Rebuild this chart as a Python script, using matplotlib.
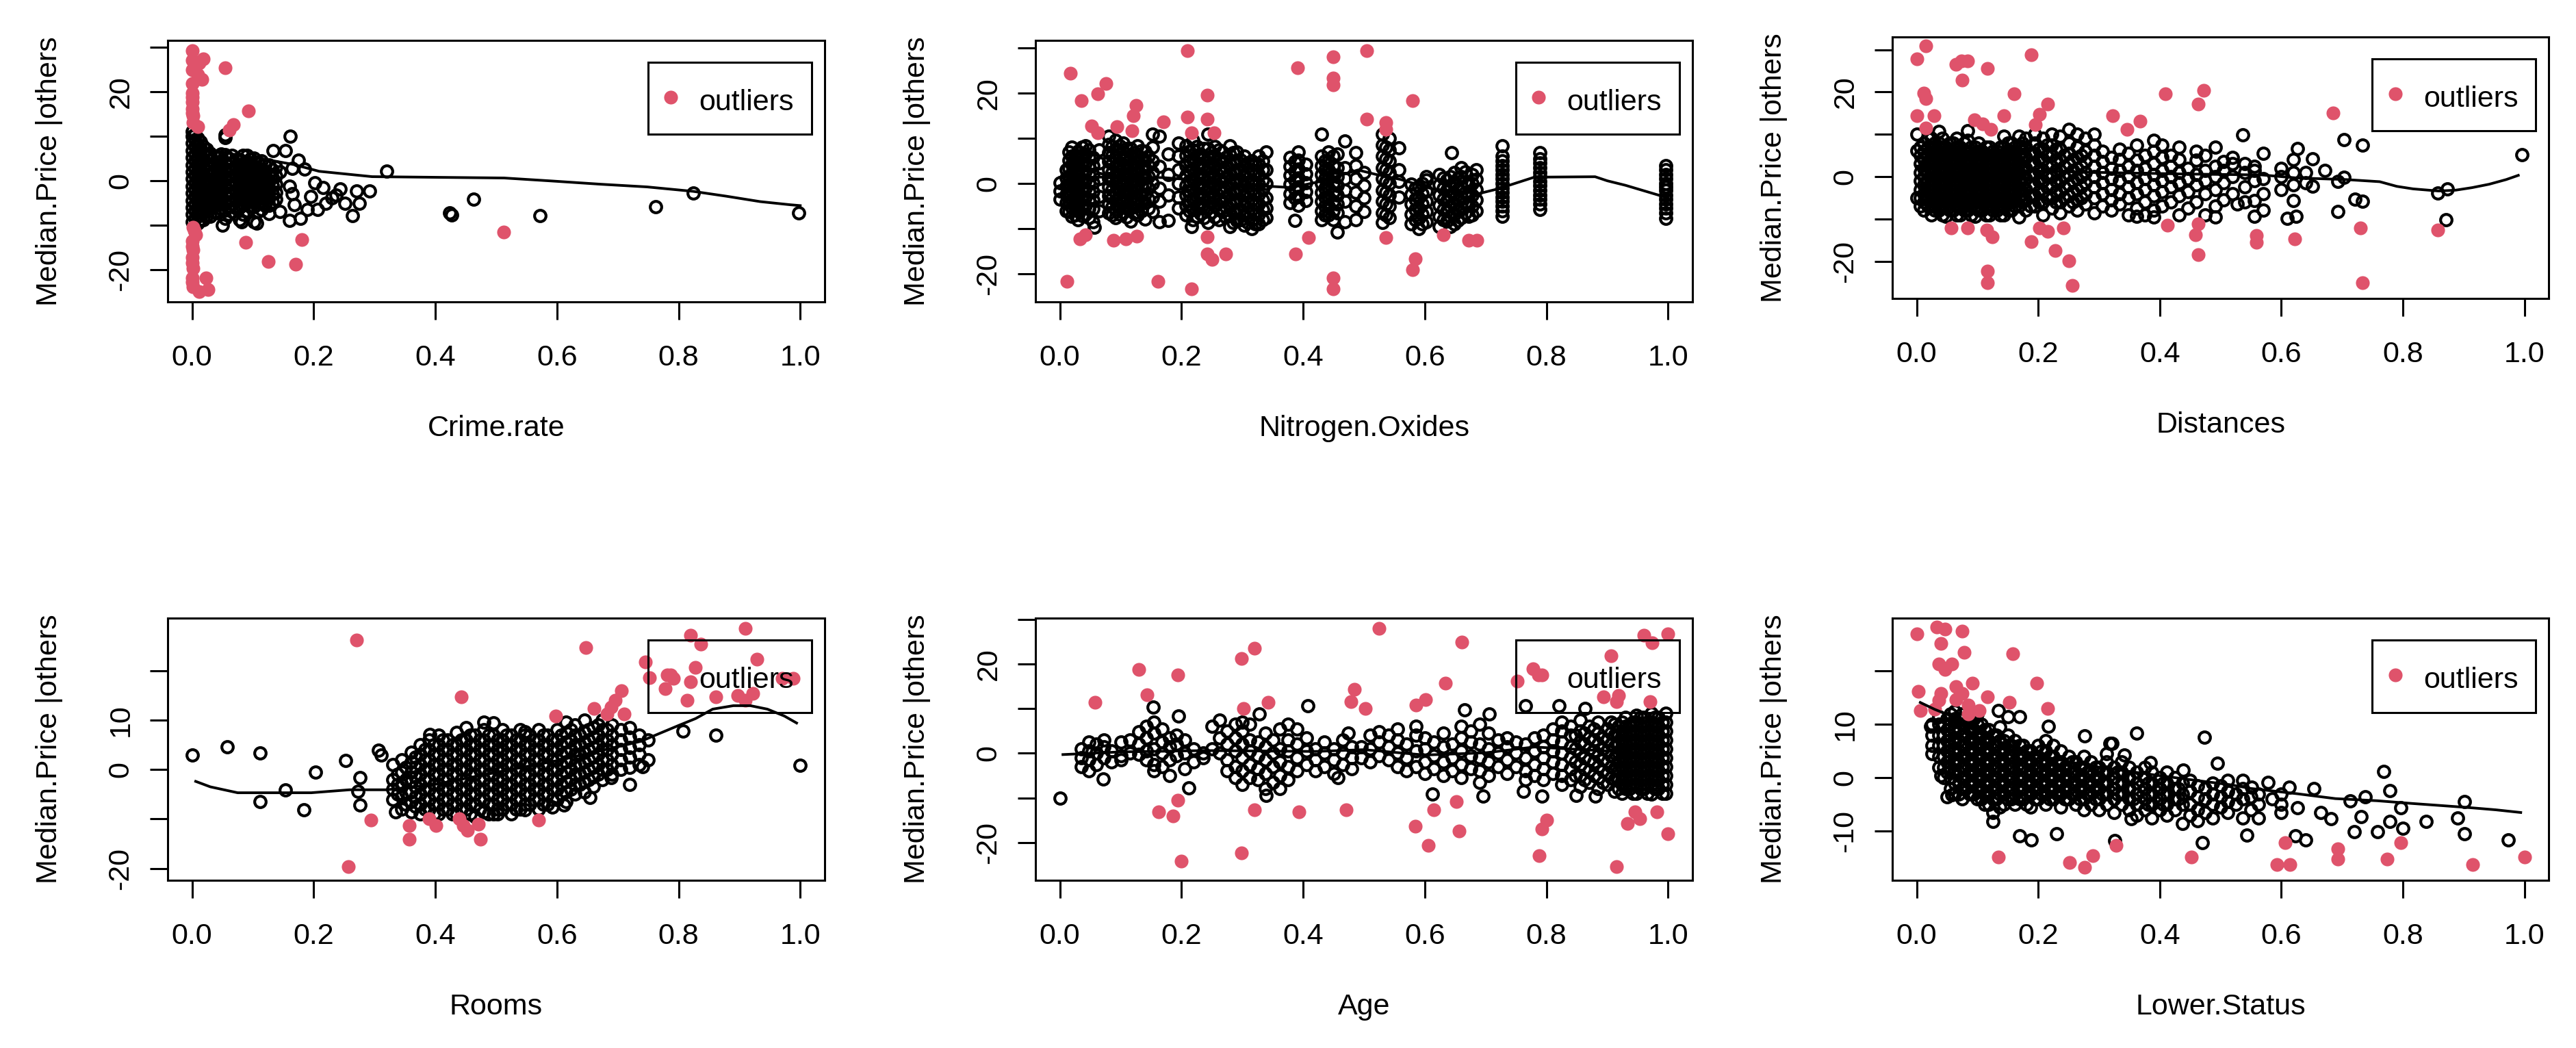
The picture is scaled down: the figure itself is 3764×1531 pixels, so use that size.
import matplotlib.pyplot as plt
from matplotlib.patches import Rectangle

plt.rcParams['font.family'] = ['Liberation Sans', 'DejaVu Sans']

RED = '#DF536B'

xticks = [0.0, 0.2, 0.4, 0.6, 0.8, 1.0]
xtick_labels = ['0.0', '0.2', '0.4', '0.6', '0.8', '1.0']
ylab = 'Median.Price |others'

# ---------------- Crime.rate ----------------
crime_black = [
    (0.001, [-9.2, -7.6, -6.0, -4.4, -2.8, -1.2, 0.4, 2.0, 3.6, 5.2, 6.8, 8.4, 10.0, 11.0]),
    (0.005, [-8.4, -6.8, -5.2, -3.6, -2.0, -0.4, 1.2, 2.8, 4.4, 6.0, 7.6, 9.2, 10.5]),
    (0.010, [-9.5, -8.0, -6.4, -4.8, -3.2, -1.6, 0.0, 1.6, 3.2, 4.8, 6.4, 8.0, 9.5]),
    (0.014, [-8.8, -7.2, -5.6, -4.0, -2.4, -0.8, 0.8, 2.4, 4.0, 5.6, 7.2, 8.8]),
    (0.019, [-8.8, -7.0, -5.4, -3.6, -2.0, -0.4, 1.2, 2.8, 4.4, 6.0, 7.6]),
    (0.024, [-7.9, -6.2, -4.5, -2.8, -1.1, 0.6, 2.3, 4.0, 5.7, 7.0]),
    (0.030, [-8.0, -6.2, -4.4, -2.6, -0.8, 1.0, 2.8, 4.6, 6.2]),
    (0.036, [-7.1, -5.3, -3.5, -1.7, 0.1, 1.9, 3.7, 5.5]),
    (0.042, [-7.2, -5.4, -3.6, -1.8, 0.0, 1.8, 3.6, 5.4]),
    (0.048, [-6.3, -4.5, -2.7, -0.9, 0.9, 2.7, 4.5, 6.0]),
    (0.054, [-8.4, -6.6, -4.8, -3.0, -1.2, 0.6, 2.4, 4.2, 5.8, 9.6, 10.3]),
    (0.060, [-7.5, -5.7, -3.9, -2.1, -0.3, 1.5, 3.3, 5.1]),
    (0.066, [-7.0, -5.2, -3.4, -1.6, 0.2, 2.0, 3.8, 5.6]),
    (0.072, [-6.1, -4.3, -2.5, -0.7, 1.1, 2.9, 4.7]),
    (0.078, [-8.8, -6.0, -4.2, -2.4, -0.6, 1.2, 3.0, 4.8]),
    (0.084, [-7.6, -5.1, -3.3, -1.5, 0.3, 2.1, 3.9, 5.6]),
    (0.090, [-6.8, -5.0, -3.2, -1.4, 0.4, 2.2, 4.0, 5.6]),
    (0.096, [-5.9, -4.1, -2.3, -0.5, 1.3, 3.1, 4.9]),
    (0.102, [-9.3, -5.8, -4.0, -2.2, -0.4, 1.4, 3.2, 5.0]),
    (0.108, [-7.0, -4.9, -3.1, -1.3, 0.5, 2.3, 4.1]),
    (0.114, [-6.4, -4.6, -2.8, -1.0, 0.8, 2.6, 4.4]),
    (0.120, [-5.5, -3.7, -1.9, -0.1, 1.7, 3.5]),
    (0.126, [-7.4, -5.6, -3.8, -2.0, -0.2, 1.6, 3.6]),
    (0.132, [-4.7, -2.9, -1.1, 0.7, 2.5]),
    (0.138, [-4.2, -2.6, -0.8, 1.0, 3.0]),
    (0.050, [-10.0]), (0.081, [-9.2]), (0.106, [-9.5]),
    (0.133, [6.7]), (0.153, [6.7]), (0.161, [10.0]), (0.175, [4.6]),
    (0.165, [2.8, -3.0]), (0.144, [2.0, -7.0]), (0.185, [2.6]), (0.160, [-1.2, -9.0]),
    (0.178, [-8.5]), (0.168, [-5.4]), (0.189, [-6.4]), (0.195, [-3.5]),
    (0.202, [-0.5]), (0.206, [-6.4]), (0.215, [-1.5]), (0.220, [-5.1]),
    (0.230, [-3.8]), (0.237, [-3.3]), (0.244, [-1.8]), (0.251, [-5.1]),
    (0.264, [-7.9]), (0.271, [-2.3]), (0.275, [-5.1]), (0.292, [-2.3]),
    (0.320, [2.1]), (0.423, [-7.2]), (0.427, [-7.7]), (0.463, [-4.1]),
    (0.572, [-7.9]), (0.762, [-5.9]), (0.824, [-2.8]), (0.997, [-7.3]),
]
crime_out = [
    (0.0, 29.2), (0.019, 27.4), (0.012, 26.4), (0.0, 27.0), (0.0, 24.9), (0.009, 23.8),
    (0.016, 22.8), (0.0, 21.8), (0.0, 19.7), (0.001, 18.8), (0.0, 17.7), (0.0, 16.2),
    (0.001, 15.2), (0.002, 14.6), (0.002, 13.1), (0.009, 12.1), (0.054, 25.4),
    (0.093, 15.6), (0.068, 12.6), (0.061, 11.3), (0.002, -10.5), (0.004, -11.3),
    (0.006, -12.1), (0.0, -13.6), (0.0, -14.8), (0.002, -15.6), (0.0, -17.2),
    (0.0, -18.5), (0.002, -19.7), (0.0, -21.8), (0.023, -21.8), (0.0, -22.8),
    (0.002, -23.8), (0.026, -24.4), (0.012, -24.9), (0.088, -13.8), (0.180, -13.3),
    (0.125, -18.2), (0.170, -18.7), (0.513, -11.5),
]
crime_fit_x = [0.0, 0.03, 0.068, 0.12, 0.168, 0.209, 0.296, 0.513, 0.589, 0.672,
               0.748, 0.824, 0.879, 0.934, 0.983, 1.0]
crime_fit_y = [8.5, 7.0, 5.9, 4.8, 3.6, 2.1, 0.9, 0.6, -0.05, -0.8,
               -1.4, -2.4, -3.5, -4.7, -5.4, -5.6]

# ---------------- Nitrogen.Oxides ----------------
nox_black = [
    (0.000, [-3.5, -1.7, 0.2]),
    (0.010, [-6.0, -4.2, -2.4, -0.6, 1.2, 3.0]),
    (0.015, [-6.2, -4.3, -2.4, -0.5, 1.4, 3.3, 5.2, 7.0]),
    (0.020, [-7.2, -5.3, -3.4, -1.5, 0.4, 2.3, 4.2, 6.1, 8.0]),
    (0.025, [-7.0, -5.1, -3.2, -1.3, 0.6, 2.5, 4.4, 6.3]),
    (0.030, [-8.0, -6.1, -4.2, -2.3, -0.4, 1.5, 3.4, 5.3, 7.2]),
    (0.036, [-7.1, -5.2, -3.3, -1.4, 0.5, 2.4, 4.3, 6.2, 8.0]),
    (0.042, [-6.8, -4.9, -3.0, -1.1, 0.8, 2.7, 4.6, 6.5, 8.4]),
    (0.048, [-7.5, -5.6, -3.7, -1.8, 0.1, 2.0, 3.9, 5.8, 7.5]),
    (0.054, [-8.5, -5.6, -3.7, -1.8, 0.1, 2.0, 3.9, 5.8]),
    (0.057, [-9.7]),
    (0.064, [-6.0, -2.8, 1.0, 4.5, 7.5]),
    (0.080, [-6.5, -4.6, -2.7, -0.8, 1.1, 3.0, 4.9, 6.8, 8.7, 10.5]),
    (0.086, [-7.0, -5.1, -3.2, -1.3, 0.6, 2.5, 4.4, 6.3, 8.2]),
    (0.092, [-7.6, -5.7, -3.8, -1.9, 0.0, 1.9, 3.8, 5.7, 7.6, 9.5]),
    (0.098, [-6.8, -4.9, -3.0, -1.1, 0.8, 2.7, 4.6, 6.5, 8.4]),
    (0.104, [-6.3, -4.4, -2.5, -0.6, 1.3, 3.2, 5.1, 7.0, 8.9]),
    (0.110, [-7.4, -5.5, -3.6, -1.7, 0.2, 2.1, 4.0, 5.9, 7.8]),
    (0.116, [-8.4, -5.5, -3.6, -1.7, 0.2, 2.1, 4.0, 5.9, 7.8]),
    (0.122, [-6.5, -4.6, -2.7, -0.8, 1.1, 3.0, 4.9, 6.8]),
    (0.128, [-7.0, -5.0, -3.1, -1.2, 0.7, 2.6, 4.5, 6.4, 8.3]),
    (0.134, [-6.0, -4.1, -2.2, -0.3, 1.6, 3.5, 5.4, 7.3]),
    (0.140, [-7.8, -4.3, -2.4, -0.5, 1.4, 3.3, 5.2, 7.1]),
    (0.146, [-5.5, -3.4, -1.0, 1.5, 4.0, 6.0]),
    (0.152, [-6.2, -3.0, 0.0, 2.5, 5.0, 8.0, 11.0]),
    (0.164, [-8.5, -4.0, -1.0, 3.8, 10.5]),
    (0.178, [-8.2, -2.5, 2.0, 6.5]),
    (0.195, [-5.5, -3.0, 0.0, 3.0, 6.0, 9.0]),
    (0.207, [-7.0, -4.8, -2.6, -0.4, 1.8, 4.0, 6.2, 8.4]),
    (0.213, [-6.0, -3.8, -1.6, 0.6, 2.8, 5.0, 7.2]),
    (0.216, [-9.5]),
    (0.219, [-8.0, -5.8, -3.6, -1.4, 0.8, 3.0, 5.2, 7.4, 9.6]),
    (0.225, [-7.2, -5.0, -2.8, -0.6, 1.6, 3.8, 6.0, 8.2]),
    (0.231, [-6.6, -4.4, -2.2, 0.0, 2.2, 4.4, 6.6]),
    (0.237, [-7.6, -5.4, -3.2, -1.0, 1.2, 3.4, 5.6, 7.8]),
    (0.243, [-8.6, -5.4, -3.2, -1.0, 1.2, 3.4, 5.6, 7.8, 11.0]),
    (0.249, [-6.4, -4.2, -2.0, 0.2, 2.4, 4.6, 6.8]),
    (0.255, [-7.4, -5.0, -2.8, -0.6, 1.6, 3.8, 6.0, 8.2]),
    (0.261, [-8.0, -5.8, -3.6, -1.4, 0.8, 3.0, 5.2, 7.4]),
    (0.267, [-6.2, -4.0, -1.8, 0.4, 2.6, 4.8, 7.0]),
    (0.273, [-7.4, -5.2, -3.0, -0.8, 1.4, 3.6, 5.8]),
    (0.279, [-9.6, -7.0, -4.6, -2.4, -0.2, 2.0, 4.2, 6.4, 8.4]),
    (0.285, [-8.6, -6.4, -4.2, -2.0, 0.2, 2.4, 4.6, 6.8]),
    (0.291, [-8.2, -5.8, -3.6, -1.4, 0.8, 3.0, 5.2, 7.0]),
    (0.297, [-8.0, -5.8, -3.6, -1.4, 0.8, 3.0, 5.2]),
    (0.303, [-9.2, -7.0, -4.8, -2.6, -0.4, 1.8, 4.0, 6.0]),
    (0.309, [-8.6, -6.4, -4.2, -2.0, 0.2, 2.4, 4.6]),
    (0.315, [-10.0, -8.0, -5.8, -3.6, -1.4, 0.8, 3.0, 5.0]),
    (0.321, [-9.0, -6.8, -4.6, -2.4, -0.2, 2.0, 4.2]),
    (0.327, [-9.0, -6.8, -4.6, -2.4, -0.2, 2.0, 4.2, 6.0]),
    (0.333, [-8.0, -5.8, -3.6, -1.4, 0.8, 3.0, 5.0]),
    (0.339, [-7.6, -5.4, -3.2, 0.0, 3.0, 7.0]),
    (0.378, [-4.2, -2.2, -0.2, 1.8, 3.8, 5.8]),
    (0.386, [-8.2, -3.2, -1.2, 0.8, 2.8, 4.8]),
    (0.392, [-4.8, -2.8, -0.8, 1.2, 3.2, 5.2, 7.0]),
    (0.404, [-3.8, -1.8, 0.2, 2.2, 4.2]),
    (0.430, [-8.0, -6.0, -4.0, -2.0, 0.0, 2.0, 4.0, 6.0, 11.0]),
    (0.436, [-7.0, -5.0, -3.0, -1.0, 1.0, 3.0, 5.0]),
    (0.442, [-7.0, -5.0, -3.0, -1.0, 1.0, 3.0, 5.0, 7.0]),
    (0.449, [-8.0, -6.0, -4.0, -2.0, 0.0, 2.0, 4.0, 6.0]),
    (0.456, [-10.8, -6.5, -4.5, -2.5, -0.5, 1.5, 3.5, 6.5]),
    (0.468, [-8.5, -4.0, -1.5, 1.0, 3.5, 9.4]),
    (0.486, [-8.0, -5.0, -2.0, 1.0, 4.0, 6.8]),
    (0.500, [-6.2, -3.2, -0.5, 2.5]),
    (0.530, [-8.7, -6.5, -4.0, -1.5, 1.0, 3.5, 6.0, 8.5, 11.0]),
    (0.536, [-7.0, -4.5, -2.0, 0.5, 3.0, 5.5, 8.0]),
    (0.542, [-7.5, -5.0, -2.5, 0.0, 2.5, 5.0, 7.5, 10.0]),
    (0.557, [-3.0, 0.5, 3.0, 7.9]),
    (0.578, [-9.0, -6.8, -4.6, -2.4, -0.2]),
    (0.584, [-8.0, -5.7, -3.4, -1.1]),
    (0.590, [-10.0, -7.7, -5.4, -3.1, -0.8]),
    (0.596, [-9.0, -6.8, -4.5, -2.2, 0.0]),
    (0.602, [-8.5, -6.2, -3.9, -1.6, 0.7, 1.5]),
    (0.624, [-9.5, -7.2, -4.9, -2.6, -0.3, 2.0]),
    (0.630, [-8.0, -5.7, -3.4, -1.1, 1.2]),
    (0.636, [-8.4, -6.1, -3.8, -1.5, 0.8]),
    (0.642, [-9.5, -7.3, -5.0, -2.7, -0.4, 1.6]),
    (0.644, [6.9]),
    (0.648, [-9.0, -6.8, -4.5, -2.2, 0.1, 2.4]),
    (0.654, [-8.2, -5.9, -3.6, -1.3, 1.0]),
    (0.660, [-7.6, -5.3, -3.0, -0.7, 1.6, 3.5]),
    (0.666, [-6.5, -4.2, -1.9, 0.4, 2.6]),
    (0.672, [-7.2, -4.9, -2.6, -0.3]),
    (0.678, [-7.0, -5.0, -2.5, 0.0, 2.0]),
    (0.684, [-6.0, -3.7, -1.4, 0.9, 3.0]),
    (0.727, [-7.2, -6.0, -5.0, -4.0, -3.0, -2.0, -1.0, 0.0, 1.0, 2.0, 3.0, 4.0, 5.0, 6.0, 8.4]),
    (0.789, [-5.7, -4.5, -3.5, -2.5, -1.5, -0.5, 0.5, 1.5, 2.5, 3.5, 4.5, 5.5, 6.9]),
    (0.996, [-7.7, -6.5, -5.5, -4.5, -3.5, -2.5, -1.5, -0.8, 0.0, 1.0, 2.0, 3.0, 4.0]),
]
nox_out = [
    (0.210, 29.4), (0.449, 28.1), (0.504, 29.4), (0.391, 25.7), (0.449, 23.3),
    (0.449, 21.8), (0.017, 24.4), (0.076, 22.2), (0.062, 19.8), (0.035, 18.4),
    (0.242, 19.6), (0.580, 18.4), (0.125, 17.3), (0.121, 15.0), (0.210, 14.7),
    (0.242, 14.2), (0.170, 13.6), (0.504, 14.2), (0.536, 13.5), (0.052, 12.7),
    (0.062, 11.2), (0.094, 12.6), (0.118, 11.7), (0.216, 11.2), (0.254, 11.2),
    (0.536, 12.0), (0.033, -12.3), (0.042, -11.3), (0.088, -12.5), (0.108, -12.3),
    (0.126, -11.7), (0.242, -11.8), (0.409, -11.9), (0.536, -11.9), (0.630, -11.4),
    (0.672, -12.5), (0.686, -12.5), (0.242, -15.6), (0.250, -16.8), (0.273, -15.6),
    (0.387, -15.6), (0.584, -16.6), (0.580, -19.1), (0.012, -21.6), (0.161, -21.6),
    (0.216, -23.4), (0.449, -20.9), (0.449, -23.4),
]
nox_fit_x = [0.0, 0.1, 0.17, 0.25, 0.33, 0.38, 0.43, 0.49, 0.52, 0.56, 0.62, 0.69,
             0.72, 0.75, 0.78, 0.88, 0.90, 0.93, 0.955, 0.98, 1.0]
nox_fit_y = [1.4, 1.4, 1.3, 0.5, -0.5, -0.9, 0.5, 3.0, 2.0, 0.9, -1.5, -2.2,
             -1.2, 0.1, 1.4, 1.5, 0.6, -0.4, -1.4, -2.4, -3.2]

# ---------------- Distances ----------------
dist_black = [
    (0.000, [-5.0, 6.1, 10.1]),
    (0.006, [-7.0, -5.0, -3.0, -1.0, 1.0, 3.0, 5.0, 7.0]),
    (0.012, [-8.0, -6.0, -4.0, -2.0, 0.0, 2.0, 4.0, 6.0, 8.0]),
    (0.018, [-7.0, -5.0, -3.0, -1.0, 1.0, 3.0, 5.0, 7.0, 9.0]),
    (0.024, [-9.0, -7.0, -5.0, -3.0, -1.0, 1.0, 3.0, 5.0, 7.0, 9.0]),
    (0.030, [-8.0, -6.0, -4.0, -2.0, 0.0, 2.0, 4.0, 6.0, 8.0]),
    (0.036, [-8.0, -6.0, -4.0, -2.0, 0.0, 2.0, 4.0, 6.0, 8.0, 10.6]),
    (0.042, [-9.0, -7.0, -5.0, -3.0, -1.0, 1.0, 3.0, 5.0, 7.0, 9.0]),
    (0.048, [-9.4, -7.0, -5.0, -3.0, -1.0, 1.0, 3.0, 5.0, 7.0]),
    (0.054, [-8.0, -6.0, -4.0, -2.0, 0.0, 2.0, 4.0, 6.0, 8.0]),
    (0.060, [-8.0, -6.0, -4.0, -2.0, 0.0, 2.0, 4.0, 6.0, 8.0]),
    (0.066, [-9.0, -7.0, -5.0, -3.0, -1.0, 1.0, 3.0, 5.0, 7.0, 9.0]),
    (0.072, [-9.0, -7.0, -5.0, -3.0, -1.0, 1.0, 3.0, 5.0, 7.0]),
    (0.078, [-8.0, -6.0, -4.0, -2.0, 0.0, 2.0, 4.0, 6.0, 8.0]),
    (0.084, [-8.0, -6.0, -4.0, -2.0, 0.0, 2.0, 4.0, 6.0, 8.5, 10.9]),
    (0.090, [-9.0, -7.0, -5.0, -3.0, -1.0, 1.0, 3.0, 5.0, 7.0]),
    (0.096, [-9.4, -7.0, -5.0, -3.0, -1.0, 1.0, 3.0, 5.0, 7.0]),
    (0.102, [-8.0, -6.0, -4.0, -2.0, 0.0, 2.0, 4.0, 6.0, 8.0]),
    (0.108, [-8.0, -6.0, -4.0, -2.0, 0.0, 2.0, 4.0, 6.0]),
    (0.114, [-9.0, -7.0, -5.0, -3.0, -1.0, 1.0, 3.0, 5.0, 7.0]),
    (0.120, [-9.0, -7.0, -5.0, -3.0, -1.0, 1.0, 3.0, 5.0, 7.0]),
    (0.126, [-8.0, -6.0, -4.0, -2.0, 0.0, 2.0, 4.0, 6.0]),
    (0.132, [-8.0, -6.0, -4.0, -2.0, 0.0, 2.0, 4.0, 6.0]),
    (0.138, [-9.0, -7.0, -5.0, -3.0, -1.0, 1.0, 3.0, 5.0, 7.0]),
    (0.144, [-9.0, -7.0, -5.0, -3.0, -1.0, 1.0, 3.0, 5.0, 7.0, 9.5]),
    (0.150, [-8.0, -6.0, -4.0, -2.0, 0.0, 2.0, 4.0, 6.0, 8.0]),
    (0.156, [-8.0, -6.0, -4.0, -2.0, 0.0, 2.0, 4.0, 6.0, 8.0]),
    (0.162, [-7.0, -5.0, -3.0, -1.0, 1.0, 3.0, 5.0, 7.0]),
    (0.168, [-9.5, -7.0, -5.0, -3.0, -1.0, 1.0, 3.0, 5.0, 7.0, 9.5]),
    (0.174, [-6.0, -4.0, -2.0, 0.0, 2.0, 4.0, 6.0, 8.0]),
    (0.180, [-8.0, -5.5, -3.0, -0.5, 2.0, 4.5, 7.0, 9.0]),
    (0.187, [-7.0, -4.5, -2.0, 0.5, 3.0, 5.5]),
    (0.194, [-7.0, -4.5, -2.0, 0.5, 3.0, 5.5, 8.0, 10.0]),
    (0.201, [-6.0, -3.5, -1.0, 1.5, 4.0, 6.5]),
    (0.208, [-9.0, -6.0, -3.5, -1.0, 1.5, 4.0, 6.5, 9.0]),
    (0.215, [-5.0, -2.5, 0.0, 2.5, 5.0, 7.5]),
    (0.222, [-7.5, -5.0, -2.5, 0.0, 2.5, 5.0, 7.5, 10.0]),
    (0.229, [-6.0, -3.5, -1.0, 1.5, 4.0, 6.5]),
    (0.236, [-8.5, -6.0, -3.5, -1.0, 1.5, 4.0, 6.5, 9.5]),
    (0.243, [-5.0, -2.5, 0.0, 2.5, 5.0]),
    (0.250, [-7.0, -4.5, -2.0, 0.5, 3.0, 5.5, 8.0, 11.2]),
    (0.257, [-6.0, -3.5, -1.0, 1.5, 4.0]),
    (0.264, [-8.0, -5.5, -3.0, -0.5, 2.0, 4.5, 7.0, 10.0]),
    (0.271, [-5.0, -2.5, 0.0, 2.5, 5.0]),
    (0.278, [-6.5, -4.0, -1.5, 1.0, 3.5, 6.0, 9.0]),
    (0.292, [-8.5, -5.0, -2.5, 0.0, 2.5, 5.0, 7.5, 10.1]),
    (0.306, [-7.0, -4.0, -1.5, 1.0, 3.5, 6.0]),
    (0.320, [-8.0, -5.5, -3.0, -0.5, 2.0, 4.5]),
    (0.334, [-6.5, -4.0, -1.0, 1.5, 4.0, 6.5]),
    (0.348, [-9.0, -5.0, -2.5, 0.0, 2.5, 5.5]),
    (0.362, [-9.4, -7.5, -4.0, -1.5, 1.5, 3.9, 7.5]),
    (0.376, [-9.1, -6.0, -3.0, -0.5, 2.0, 5.0]),
    (0.390, [-9.5, -8.0, -4.5, -2.0, 0.5, 3.0, 6.0, 8.5]),
    (0.404, [-7.0, -3.5, -1.0, 1.5, 4.5, 7.5]),
    (0.418, [-6.0, -2.5, 0.0, 2.5, 5.0]),
    (0.432, [-9.0, -4.5, -1.5, 1.0, 4.0, 6.9]),
    (0.446, [-7.5, -3.5, -0.5, 2.0]),
    (0.460, [-6.0, -2.0, 0.5, 3.9, 6.0]),
    (0.475, [-9.0, -4.0, -1.0, 1.5, 5.0]),
    (0.492, [-9.6, -7.0, -3.0, 0.0, 2.5, 6.9]),
    (0.505, [-5.5, -1.5, 1.5, 3.5]),
    (0.520, [-4.0, 0.0, 3.0, 4.5]),
    (0.527, [-6.4]),
    (0.537, [9.8]),
    (0.540, [-6.0, -2.5, 1.0, 3.0]),
    (0.556, [-9.4, -5.6, -1.0, 1.5, 2.5]),
    (0.570, [-8.0, -4.0, -0.5, 5.5]),
    (0.600, [-3.0, 0.0, 2.0]),
    (0.610, [-9.9]),
    (0.620, [-5.6, -2.0, 1.0, 4.0]),
    (0.624, [-9.4]), (0.627, [6.6]), (0.640, [1.0, -1.5]),
    (0.651, [4.2, -2.3]), (0.672, [1.5]), (0.693, [-1.2, -8.3]),
    (0.703, [8.8, -0.2]), (0.721, [-5.3]), (0.734, [7.4, -5.8]),
    (0.857, [-3.9]), (0.873, [-2.9]), (0.871, [-10.2]), (0.996, [5.2]),
]
dist_out = [
    (0.015, 30.9), (0.0, 27.9), (0.074, 27.4), (0.084, 27.4), (0.065, 26.6),
    (0.116, 25.5), (0.188, 28.8), (0.075, 22.8), (0.012, 19.8), (0.015, 18.5),
    (0.160, 19.6), (0.409, 19.6), (0.472, 20.4), (0.463, 17.1), (0.216, 17.1),
    (0.202, 14.7), (0.001, 14.4), (0.029, 14.4), (0.143, 14.4), (0.323, 14.4),
    (0.368, 13.1), (0.095, 13.4), (0.109, 12.5), (0.122, 11.2), (0.015, 11.5),
    (0.195, 12.3), (0.346, 11.2), (0.685, 15.1), (0.057, -12.1), (0.084, -12.1),
    (0.115, -12.6), (0.124, -14.2), (0.202, -12.1), (0.216, -12.9), (0.242, -12.1),
    (0.188, -15.3), (0.228, -17.5), (0.250, -19.9), (0.116, -22.3), (0.116, -25.0),
    (0.256, -25.8), (0.413, -11.5), (0.463, -11.2), (0.459, -13.7), (0.463, -18.5),
    (0.559, -13.9), (0.559, -15.6), (0.622, -14.8), (0.730, -12.1), (0.857, -12.6),
    (0.734, -25.0),
]
dist_fit_x = [0.0, 0.1, 0.2, 0.333, 0.45, 0.568, 0.624, 0.707, 0.762, 0.79, 0.817,
              0.859, 0.887, 0.914, 0.942, 0.97, 0.99]
dist_fit_y = [2.5, 1.8, 1.3, 0.9, 0.6, 0.4, -0.3, -0.7, -1.2, -2.3, -2.9,
              -3.4, -3.2, -2.6, -1.8, -0.7, 0.3]

# ---------------- Rooms ----------------
rooms_black = [
    (0.000, [2.9]), (0.058, [4.6]), (0.112, [3.4, -6.5]), (0.154, [-4.2]),
    (0.184, [-8.1]), (0.203, [-0.5]), (0.252, [1.8]), (0.307, [3.9]), (0.311, [2.9]),
    (0.276, [-1.7, -7.2]), (0.273, [-4.4]), (0.335, [-8.6]), (0.807, [7.8]),
    (0.861, [6.9]), (1.000, [0.9]), (0.720, [-3.0]), (0.689, [-1.7]), (0.741, [0.6]),
    (0.654, [-5.6]), (0.592, [-7.6]), (0.612, [-7.2]), (0.547, [-8.1]), (0.502, [-9.0]),
    (0.391, [7.1]), (0.495, [9.4]), (0.547, [7.6]),
    (0.330, [-6.0, -4.0, -2.0, 1.0]),
    (0.338, [-5.0, -3.0, -1.0]),
    (0.345, [-8.0, -5.5, -3.0, -0.5, 2.0]),
    (0.352, [-7.0, -4.5, -2.0, 0.5]),
    (0.360, [-8.5, -6.5, -4.5, -2.5, -0.5, 1.5, 3.5]),
    (0.3675, [-7.5, -5.5, -3.5, -1.5, 0.5, 2.5]),
    (0.375, [-9.0, -7.0, -5.0, -3.0, -1.0, 1.0, 3.0, 5.0]),
    (0.3825, [-8.0, -6.0, -4.0, -2.0, 0.0, 2.0, 4.0]),
    (0.390, [-8.0, -6.0, -4.0, -2.0, 0.0, 2.0, 4.0, 6.0]),
    (0.3975, [-9.0, -7.0, -5.0, -3.0, -1.0, 1.0, 3.0, 5.0]),
    (0.405, [-9.0, -7.0, -5.0, -3.0, -1.0, 1.0, 3.0, 5.0, 7.0]),
    (0.4125, [-8.0, -6.0, -4.0, -2.0, 0.0, 2.0, 4.0, 6.0]),
    (0.420, [-8.0, -6.0, -4.0, -2.0, 0.0, 2.0, 4.0, 6.0]),
    (0.4275, [-9.0, -7.0, -5.0, -3.0, -1.0, 1.0, 3.0, 5.0]),
    (0.435, [-9.0, -7.0, -5.0, -3.0, -1.0, 1.0, 3.0, 5.0, 7.5]),
    (0.4425, [-8.0, -6.0, -4.0, -2.0, 0.0, 2.0, 4.0, 6.0]),
    (0.450, [-8.0, -6.0, -4.0, -2.0, 0.0, 2.0, 4.0, 6.0, 8.5]),
    (0.4575, [-9.0, -7.0, -5.0, -3.0, -1.0, 1.0, 3.0, 5.0, 7.0]),
    (0.465, [-9.5, -7.0, -5.0, -3.0, -1.0, 1.0, 3.0, 5.0, 7.0]),
    (0.4725, [-8.0, -6.0, -4.0, -2.0, 0.0, 2.0, 4.0, 6.0]),
    (0.480, [-8.5, -6.0, -4.0, -2.0, 0.0, 2.0, 4.0, 6.0, 8.0, 9.5]),
    (0.4875, [-9.0, -7.0, -5.0, -3.0, -1.0, 1.0, 3.0, 5.0, 7.0]),
    (0.495, [-9.0, -7.0, -5.0, -3.0, -1.0, 1.0, 3.0, 5.0, 7.0]),
    (0.5025, [-8.0, -6.0, -4.0, -2.0, 0.0, 2.0, 4.0, 6.0]),
    (0.510, [-8.0, -6.0, -4.0, -2.0, 0.0, 2.0, 4.0, 6.0, 8.0]),
    (0.5175, [-7.0, -5.0, -3.0, -1.0, 1.0, 3.0, 5.0, 7.0]),
    (0.525, [-9.0, -7.0, -5.0, -3.0, -1.0, 1.0, 3.0, 5.0, 7.0]),
    (0.5325, [-8.0, -6.0, -4.0, -2.0, 0.0, 2.0, 4.0, 6.0]),
    (0.540, [-8.0, -6.0, -4.0, -2.0, 0.0, 2.0, 4.0, 6.0, 8.0]),
    (0.5475, [-7.0, -5.0, -3.0, -1.0, 1.0, 3.0, 5.0, 7.0]),
    (0.555, [-7.0, -5.0, -3.0, -1.0, 1.0, 3.0, 5.0, 7.0]),
    (0.5625, [-6.0, -4.0, -2.0, 0.0, 2.0, 4.0, 6.0]),
    (0.570, [-8.0, -6.0, -4.0, -2.0, 0.0, 2.0, 4.0, 6.0, 8.0]),
    (0.5775, [-7.0, -5.0, -3.0, -1.0, 1.0, 3.0, 5.0, 7.0]),
    (0.585, [-7.0, -5.0, -3.0, -1.0, 1.0, 3.0, 5.0, 7.0]),
    (0.5925, [-6.0, -4.0, -2.0, 0.0, 2.0, 4.0, 6.0]),
    (0.600, [-6.0, -4.0, -2.0, 0.0, 2.0, 4.0, 6.0, 8.0]),
    (0.6075, [-5.0, -3.0, -1.0, 1.0, 3.0, 5.0, 7.0]),
    (0.615, [-6.5, -4.5, -2.5, -0.5, 1.5, 3.5, 5.5, 7.5, 9.5]),
    (0.6225, [-4.0, -2.0, 0.0, 2.0, 4.0, 6.0, 8.0]),
    (0.630, [-5.0, -3.0, -1.0, 1.0, 3.0, 5.0, 7.0, 9.0]),
    (0.6375, [-3.0, -1.0, 1.0, 3.0, 5.0, 7.0]),
    (0.645, [-4.5, -2.5, -0.5, 1.5, 3.5, 5.5, 7.5, 10.0]),
    (0.6525, [-2.0, 0.0, 2.0, 4.0, 6.0, 8.0]),
    (0.660, [-3.5, -1.5, 0.5, 2.5, 4.5, 6.5, 8.5]),
    (0.6675, [-1.0, 1.0, 3.0, 5.0, 7.0, 9.0]),
    (0.675, [-2.0, 0.0, 2.0, 4.0, 6.0, 8.0, 10.0]),
    (0.6825, [0.0, 2.0, 4.0, 6.0, 8.0]),
    (0.690, [-1.0, 1.0, 3.0, 5.0, 7.0, 9.0]),
    (0.705, [0.0, 2.0, 4.0, 6.0, 8.0]),
    (0.720, [0.5, 2.5, 4.5, 6.5, 8.5]),
    (0.735, [1.0, 3.0, 5.0, 7.0]),
    (0.750, [2.0, 6.0]),
]
rooms_out = [
    (0.271, 26.2), (0.647, 24.6), (0.820, 27.1), (0.837, 25.3), (0.910, 28.5),
    (0.929, 22.3), (0.745, 21.8), (0.752, 18.6), (0.781, 19.1), (0.792, 18.4),
    (0.778, 16.3), (0.827, 20.7), (0.820, 17.7), (0.814, 14.0), (0.861, 14.7),
    (0.897, 14.9), (0.922, 15.4), (0.910, 14.0), (0.988, 18.4), (0.970, 18.4),
    (0.706, 15.9), (0.696, 14.0), (0.689, 12.6), (0.661, 12.4), (0.682, 11.2),
    (0.710, 11.2), (0.598, 10.8), (0.443, 14.7), (0.294, -10.2), (0.357, -11.3),
    (0.357, -14.1), (0.390, -10.0), (0.401, -11.3), (0.439, -10.0), (0.446, -11.3),
    (0.453, -12.3), (0.471, -11.1), (0.474, -14.1), (0.570, -10.2), (0.257, -19.6),
]
rooms_fit_x = [0.006, 0.03, 0.075, 0.196, 0.259, 0.32, 0.4, 0.45, 0.5, 0.55, 0.6,
               0.65, 0.7, 0.738, 0.765, 0.8, 0.828, 0.856, 0.89, 0.918, 0.946,
               0.974, 0.994]
rooms_fit_y = [-2.4, -3.5, -4.7, -4.7, -4.1, -4.1, -3.0, -1.8, -0.6, 0.6, 1.8,
               3.2, 4.6, 5.7, 7.1, 8.9, 10.3, 12.2, 12.9, 12.9, 12.2, 10.8, 9.4]

# ---------------- Age ----------------
age_black = [
    (0.000, [-10.1]), (0.071, [-5.8]), (0.212, [-7.8]), (0.153, [10.3]),
    (0.195, [8.3]), (0.408, [10.6]), (0.328, [8.8]), (0.474, [4.5]),
    (0.613, [-9.1]), (0.696, [-9.6]), (0.762, [-8.6]), (0.793, [-9.6]),
    (0.849, [-9.4]), (0.880, [-9.6]), (0.665, [9.8]), (0.706, [8.8]),
    (0.457, [-5.5]), (0.339, [-9.4]), (0.765, [10.6]), (0.821, [10.6]), (0.863, [10.1]),
    (0.035, [-3.0, -1.0, 1.0]),
    (0.048, [-4.0, -1.5, 0.5, 2.5]),
    (0.060, [-2.5, 0.0, 2.0]),
    (0.072, [-1.0, 1.5, 3.0]),
    (0.085, [-2.0, 0.5]),
    (0.100, [-1.5, -0.5, 2.5]),
    (0.115, [0.0, 3.0]),
    (0.130, [-0.3, 2.0, 4.8]),
    (0.142, [-1.5, 0.5, 3.5, 6.0]),
    (0.155, [-4.0, -2.5, 1.0, 4.5, 7.0]),
    (0.168, [-3.0, 0.0, 2.5, 5.5]),
    (0.180, [-5.0, -1.5, 1.5, 3.5]),
    (0.192, [-0.5, 2.0, 4.0]),
    (0.205, [-3.5, 0.0, 3.0]),
    (0.220, [-2.0, 1.0]),
    (0.235, [-1.0, 0.0]),
    (0.250, [1.0, 6.0]),
    (0.262, [0.0, 3.5, 7.5]),
    (0.275, [-4.0, -1.5, 2.0, 5.0]),
    (0.288, [-5.5, -3.0, 0.5, 3.5, 6.5]),
    (0.300, [-7.0, -4.0, -1.0, 2.0, 5.0, 7.0]),
    (0.312, [-5.5, -2.5, 0.5, 3.0, 6.5]),
    (0.325, [-6.0, -3.5, -0.5, 2.5]),
    (0.338, [-8.0, -4.5, -1.5, 1.5, 4.5]),
    (0.350, [-6.5, -3.0, 0.0, 3.0]),
    (0.362, [-8.0, -5.0, -2.0, 1.0, 5.5]),
    (0.375, [-6.0, -3.0, 0.5, 3.0, 6.5]),
    (0.390, [-4.0, -1.0, 2.0, 5.5]),
    (0.405, [-2.5, 0.5, 3.5]),
    (0.420, [-4.0, -1.5, 1.0]),
    (0.435, [-3.0, 0.0, 2.5]),
    (0.450, [-4.5, -1.5, 1.0]),
    (0.465, [-2.5, 0.0, 3.0]),
    (0.480, [-3.5, -1.0, 1.5]),
    (0.495, [-1.0, 1.5]),
    (0.510, [-2.0, 1.0, 4.0]),
    (0.525, [-0.5, 2.5, 4.8]),
    (0.540, [-1.5, 1.5, 4.0]),
    (0.555, [-3.0, 0.0, 3.0, 5.5]),
    (0.570, [-4.0, -1.0, 2.0]),
    (0.585, [-3.0, 0.5, 4.0, 6.0]),
    (0.600, [-4.5, -2.0, 1.0, 3.5]),
    (0.615, [-3.5, -0.5, 2.5]),
    (0.630, [-5.0, -2.0, 1.5, 4.5]),
    (0.645, [-4.0, -1.0, 2.0]),
    (0.660, [-5.5, -2.5, 0.5, 3.5, 6.0]),
    (0.675, [-3.5, -0.5, 2.5, 5.0]),
    (0.690, [-6.5, -4.0, -1.0, 2.0, 6.5]),
    (0.705, [-5.0, -2.0, 1.0, 4.5]),
    (0.720, [-3.0, 0.0, 3.0]),
    (0.735, [-4.5, -1.5, 1.5, 3.5]),
    (0.750, [-3.0, 0.0, 2.5]),
    (0.765, [-6.0, -4.0, -1.0, 2.0]),
    (0.780, [-5.0, -2.5, 0.5, 3.5]),
    (0.795, [-6.0, -3.5, -1.0, 1.5, 4.0]),
    (0.810, [-4.5, -2.0, 0.5, 3.0, 5.5]),
    (0.825, [-7.0, -5.0, -2.5, 0.0, 2.5, 5.0, 7.0]),
    (0.840, [-6.0, -3.5, -1.0, 1.5, 4.0, 6.0]),
    (0.848, [-5.0, -2.0, 1.0, 4.0]),
    (0.855, [-7.5, -5.0, -2.5, 0.0, 2.5, 5.0, 7.5]),
    (0.862, [-6.0, -3.5, -1.0, 2.0, 4.5]),
    (0.870, [-6.5, -4.0, -1.5, 1.0, 3.5, 6.0]),
    (0.878, [-5.0, -2.0, 0.5, 3.0, 5.5]),
    (0.885, [-8.0, -5.5, -3.0, -0.5, 2.0, 4.5, 7.0]),
    (0.893, [-6.5, -4.0, -1.5, 1.0, 3.5]),
    (0.900, [-7.0, -4.5, -2.0, 0.5, 3.0, 5.5]),
    (0.906, [-5.5, -3.0, -0.5, 2.0, 4.5, 7.0]),
    (0.912, [-8.5, -6.0, -3.5, -1.0, 1.5, 4.0, 6.5]),
    (0.918, [-8.0, -6.0, -4.0, -2.0, 0.0, 2.0, 4.0, 6.0]),
    (0.924, [-9.0, -7.0, -5.0, -3.0, -1.0, 1.0, 3.0, 5.0, 7.0]),
    (0.930, [-8.0, -6.0, -4.0, -2.0, 0.0, 2.0, 4.0, 6.0, 8.0]),
    (0.936, [-8.0, -6.0, -4.0, -2.0, 0.0, 2.0, 4.0, 6.0]),
    (0.942, [-9.0, -7.0, -5.0, -3.0, -1.0, 1.0, 3.0, 5.0, 7.0]),
    (0.948, [-9.0, -7.0, -5.0, -3.0, -1.0, 1.0, 3.0, 5.0, 7.0, 8.5]),
    (0.954, [-8.0, -6.0, -4.0, -2.0, 0.0, 2.0, 4.0, 6.0, 8.0]),
    (0.960, [-8.0, -6.0, -4.0, -2.0, 0.0, 2.0, 4.0, 6.0, 8.0]),
    (0.966, [-9.0, -7.0, -5.0, -3.0, -1.0, 1.0, 3.0, 5.0, 7.0]),
    (0.972, [-9.2, -7.0, -5.0, -3.0, -1.0, 1.0, 3.0, 5.0, 7.0, 9.0]),
    (0.978, [-8.0, -6.0, -4.0, -2.0, 0.0, 2.0, 4.0, 6.0, 8.0]),
    (0.984, [-8.0, -6.0, -4.0, -2.0, 0.0, 2.0, 4.0, 6.0, 8.0]),
    (0.990, [-9.0, -7.0, -5.0, -3.0, -1.0, 1.0, 3.0, 5.0, 7.0]),
    (0.996, [-9.0, -7.0, -5.0, -3.0, -1.0, 1.0, 3.0, 5.0, 7.0, 9.0]),
]
age_out = [
    (0.525, 28.0), (0.661, 24.9), (0.960, 26.4), (0.974, 24.7), (1.0, 26.7),
    (0.320, 23.6), (0.298, 21.2), (0.130, 18.8), (0.194, 17.5), (0.778, 19.0),
    (0.792, 17.5), (0.752, 16.2), (0.634, 15.7), (0.906, 21.8), (0.143, 13.1),
    (0.058, 11.4), (0.484, 14.4), (0.479, 11.5), (0.502, 10.1), (0.601, 12.1),
    (0.585, 10.8), (0.342, 11.4), (0.302, 10.1), (0.894, 12.6), (0.918, 12.9),
    (0.915, 11.6), (0.970, 11.6), (0.194, -10.6), (0.162, -13.2), (0.186, -14.0),
    (0.320, -12.7), (0.393, -13.2), (0.471, -12.7), (0.615, -12.7), (0.652, -10.9),
    (0.584, -16.3), (0.656, -17.5), (0.606, -20.6), (0.298, -22.4), (0.199, -24.2),
    (0.788, -22.9), (0.800, -15.0), (0.792, -17.0), (0.915, -25.5), (0.946, -13.2),
    (0.953, -14.7), (0.933, -15.8), (0.982, -13.2), (1.0, -18.1),
]
age_fit_x = [0.005, 0.1, 0.24, 0.42, 0.5, 0.6, 0.7, 0.78, 0.9, 1.0]
age_fit_y = [-0.3, 0.3, 0.6, 0.4, 0.8, -0.4, 0.1, 1.4, 0.5, -0.5]

# ---------------- Lower.Status ----------------
lstat_black = [
    (0.040, [0.4]), (0.023, [9.6]), (0.058, [-3.2]), (0.065, [3.4]),
    (0.126, [-8.2]), (0.169, [-10.9, 11.5]), (0.189, [-11.6]), (0.230, [-10.5]),
    (0.276, [7.9]), (0.318, [6.4]), (0.362, [8.3]), (0.474, [7.6]), (0.495, [2.7]),
    (0.326, [-11.8]), (0.353, [-7.7]), (0.470, [-12.2]), (0.543, [-10.7]),
    (0.623, [-10.9]), (0.640, [-11.6]), (0.769, [1.2]), (0.779, [-2.4, -8.2]),
    (0.720, [-10.1]), (0.758, [-10.1]), (0.838, [-8.2]), (0.890, [-7.5]),
    (0.901, [-10.5, -4.5]), (0.974, [-11.6]), (0.731, [-7.3]), (0.800, [-9.4]),
    (0.682, [-7.7]), (0.654, [-2.0]), (0.713, [-4.3]), (0.738, [-3.5]),
    (0.797, [-5.6]), (0.665, [-6.5]), (0.627, [-5.6]), (0.585, [-3.9]),
    (0.613, [-1.8]), (0.578, [-0.9]), (0.551, [-1.8]), (0.217, [9.6]),
    (0.134, [12.6]), (0.439, [1.5]), (0.384, [2.9]), (0.342, [4.2]), (0.321, [6.4]),
    (0.025, [4.5, 6.0, 8.0, 10.0]),
    (0.037, [2.0, 4.0, 6.0, 8.0, 10.0, 11.5]),
    (0.044, [0.0, 2.0, 4.0, 6.0, 8.0, 10.0]),
    (0.050, [-3.5, 1.0, 3.0, 5.0, 7.0, 9.0, 11.0]),
    (0.056, [-2.0, 0.0, 2.0, 4.0, 6.0, 8.0, 10.0, 12.0]),
    (0.062, [-3.0, -1.0, 1.0, 3.0, 5.0, 7.0, 9.0, 11.0, 12.5]),
    (0.069, [-3.0, -1.0, 1.0, 3.0, 5.0, 7.0, 9.0, 11.0]),
    (0.075, [-4.0, -2.0, 0.0, 2.0, 4.0, 6.0, 8.0, 10.0, 12.0]),
    (0.081, [-2.0, 0.0, 2.0, 4.0, 6.0, 8.0, 10.0]),
    (0.087, [-3.0, -1.0, 1.0, 3.0, 5.0, 7.0, 9.0, 11.0]),
    (0.094, [-3.0, -1.0, 1.0, 3.0, 5.0, 7.0, 9.0, 11.0]),
    (0.100, [-4.0, -2.0, 0.0, 2.0, 4.0, 6.0, 8.0, 10.0, 12.0]),
    (0.106, [-4.0, -2.0, 0.0, 2.0, 4.0, 6.0, 8.0, 10.0]),
    (0.112, [-5.0, -3.0, -1.0, 1.0, 3.0, 5.0, 7.0, 9.0]),
    (0.119, [-5.0, -3.0, -1.0, 1.0, 3.0, 5.0, 7.0, 9.0]),
    (0.125, [-6.5, -4.0, -2.0, 0.0, 2.0, 4.0, 6.0, 8.0]),
    (0.131, [-4.0, -2.0, 0.0, 2.0, 4.0, 6.0, 8.0]),
    (0.137, [-5.5, -3.0, -1.0, 1.0, 3.0, 5.0, 7.0, 9.5]),
    (0.144, [-5.0, -3.0, -1.0, 1.0, 3.0, 5.0, 7.0]),
    (0.150, [-4.0, -2.0, 0.0, 2.0, 4.0, 6.0, 8.0, 11.5]),
    (0.156, [-4.0, -2.0, 0.0, 2.0, 4.0, 6.0]),
    (0.162, [-5.0, -3.0, -1.0, 1.0, 3.0, 5.0, 7.0]),
    (0.169, [-4.0, -2.0, 0.0, 2.0, 4.0, 6.0]),
    (0.175, [-4.0, -2.0, 0.0, 2.0, 4.0, 6.0]),
    (0.181, [-5.0, -3.0, -1.0, 1.0, 3.0, 5.0]),
    (0.187, [-5.5, -3.0, -1.0, 1.0, 3.0, 5.0]),
    (0.194, [-4.0, -2.0, 0.0, 2.0, 4.0]),
    (0.200, [-4.0, -2.0, 0.0, 2.0, 4.0, 6.0]),
    (0.206, [-3.0, -1.0, 1.0, 3.0, 5.0]),
    (0.212, [-5.0, -3.0, -1.0, 1.0, 3.0, 5.0, 7.0]),
    (0.219, [-4.0, -2.0, 0.0, 2.0, 4.0]),
    (0.225, [-4.0, -2.0, 0.0, 2.0, 4.0, 6.0]),
    (0.231, [-3.0, -1.0, 1.0, 3.0]),
    (0.237, [-5.5, -3.0, -1.0, 1.0, 3.0, 5.0]),
    (0.244, [-4.0, -2.0, 0.0, 2.0]),
    (0.250, [-4.0, -2.0, 0.0, 2.0, 4.0]),
    (0.256, [-3.0, -1.0, 1.0, 3.0]),
    (0.262, [-5.0, -3.0, -1.0, 1.0, 3.0]),
    (0.269, [-4.0, -2.0, 0.0, 2.0]),
    (0.275, [-6.0, -4.0, -2.0, 0.0, 2.0, 4.0]),
    (0.281, [-3.0, -1.0, 1.0]),
    (0.287, [-5.0, -3.0, -1.0, 1.0, 3.0]),
    (0.294, [-4.0, -2.0, 0.0, 2.0]),
    (0.300, [-6.0, -4.0, -2.0, 0.0, 2.0]),
    (0.306, [-3.0, -1.0, 1.0]),
    (0.312, [-5.0, -3.0, -1.0, 1.0, 3.0, 4.5]),
    (0.325, [-6.5, -4.0, -2.0, 0.0, 2.0]),
    (0.331, [-3.0, -1.0, 1.0]),
    (0.337, [-5.0, -3.0, -1.0, 1.0, 3.0]),
    (0.350, [-6.0, -4.0, -2.0, 0.0, 2.0]),
    (0.356, [-4.0, -2.0, 0.0]),
    (0.362, [-7.0, -5.0, -3.0, -1.0, 1.0]),
    (0.375, [-6.0, -4.0, -2.0, 0.0, 2.0]),
    (0.381, [-5.0, -3.0, -1.0]),
    (0.387, [-7.5, -5.0, -3.0, -1.0, 1.0]),
    (0.400, [-6.0, -4.0, -2.0, 0.0]),
    (0.406, [-5.0, -3.0, -1.0]),
    (0.412, [-7.0, -5.0, -3.0, -1.0, 1.0]),
    (0.425, [-6.0, -4.0, -2.0, 0.0]),
    (0.431, [-4.0, -2.0]),
    (0.437, [-8.5, -5.0, -3.0, -1.0]),
    (0.450, [-7.0, -5.0, -2.5, -0.5]),
    (0.462, [-8.0, -6.0, -3.5, -1.5]),
    (0.475, [-6.5, -4.0, -2.0]),
    (0.487, [-7.5, -5.0, -3.0, -1.0]),
    (0.500, [-5.5, -3.5, -1.5]),
    (0.512, [-6.5, -4.5, -2.5, -0.5]),
    (0.525, [-5.0, -3.0]),
    (0.537, [-7.5, -4.0, -2.0, -0.5]),
    (0.550, [-6.0, -3.5]),
    (0.562, [-7.5, -5.0, -3.0]),
    (0.600, [-6.5, -5.0, -3.0]),
]
lstat_out = [
    (0.0, 26.9), (0.033, 28.2), (0.047, 27.9), (0.075, 27.5), (0.040, 25.2),
    (0.078, 23.5), (0.158, 23.2), (0.037, 21.3), (0.058, 21.3), (0.047, 20.3),
    (0.065, 17.1), (0.092, 17.7), (0.198, 17.7), (0.003, 16.2), (0.040, 15.8),
    (0.075, 15.8), (0.117, 15.1), (0.065, 14.7), (0.037, 14.5), (0.153, 14.1),
    (0.085, 13.6), (0.216, 13.0), (0.006, 12.6), (0.030, 12.8), (0.103, 12.6),
    (0.085, 11.9), (0.134, -14.8), (0.252, -15.9), (0.276, -16.7), (0.290, -14.6),
    (0.328, -12.6), (0.452, -14.8), (0.606, -12.2), (0.593, -16.3), (0.614, -16.3),
    (0.693, -13.3), (0.693, -15.2), (0.797, -12.2), (0.774, -15.2), (0.915, -16.3),
    (1.0, -14.8),
]
lstat_fit_x = [0.006, 0.03, 0.054, 0.1, 0.15, 0.2, 0.25, 0.3, 0.35, 0.4, 0.474,
               0.516, 0.55, 0.627, 0.689, 0.758, 0.814, 0.863, 0.911, 0.953, 0.994]
lstat_fit_y = [14.1, 12.8, 11.7, 8.5, 6.0, 4.2, 3.0, 2.0, 1.2, 0.4, -0.7,
               -1.3, -2.0, -3.0, -3.9, -4.3, -4.8, -5.2, -5.6, -6.0, -6.5]

panels = [
    ('Crime.rate', crime_black, crime_out, crime_fit_x, crime_fit_y,
     [0.0651, 0.7120, 0.2550, 0.2495], (-27.2, 31.5),
     [-20, -10, 0, 10, 20, 30], ['-20', '', '0', '', '20', '']),
    ('Nitrogen.Oxides', nox_black, nox_out, nox_fit_x, nox_fit_y,
     [0.4020, 0.7120, 0.2550, 0.2495], (-26.2, 31.7),
     [-20, -10, 0, 10, 20, 30], ['-20', '', '0', '', '20', '']),
    ('Distances', dist_black, dist_out, dist_fit_x, dist_fit_y,
     [0.7346, 0.7152, 0.2548, 0.2495], (-28.8, 33.0),
     [-20, -10, 0, 10, 20, 30], ['-20', '', '0', '', '20', '']),
    ('Rooms', rooms_black, rooms_out, rooms_fit_x, rooms_fit_y,
     [0.0651, 0.1600, 0.2550, 0.2502], (-22.4, 30.6),
     [-20, -10, 0, 10, 20], ['-20', '', '0', '10', '']),
    ('Age', age_black, age_out, age_fit_x, age_fit_y,
     [0.4020, 0.1600, 0.2550, 0.2502], (-28.5, 30.3),
     [-20, -10, 0, 10, 20, 30], ['-20', '', '0', '', '20', '']),
    ('Lower.Status', lstat_black, lstat_out, lstat_fit_x, lstat_fit_y,
     [0.7346, 0.1600, 0.2548, 0.2502], (-19.2, 29.9),
     [-10, 0, 10, 20], ['-10', '0', '10', '']),
]

fig = plt.figure(figsize=(37.64, 15.31), dpi=100)

for name, black, out, fx, fy, rect, ylim, yt, ytl in panels:
    ax = fig.add_axes(rect)
    bx = [x for x, ys in black for _ in ys]
    by = [y for _, ys in black for y in ys]
    ax.plot(bx, by, 'o', ls='none', mfc='none', mec='black', ms=12, mew=3.0, zorder=2)
    ox, oy = zip(*out)
    ax.plot(ox, oy, 'o', ls='none', color=RED, ms=14.5, mew=0, zorder=3)
    ax.plot(fx, fy, color='black', lw=2.8, zorder=4)

    ax.set_xlim(-0.04, 1.04)
    ax.set_ylim(*ylim)
    ax.set_xticks(xticks)
    ax.set_xticklabels(xtick_labels)
    ax.set_yticks(yt)
    ax.set_yticklabels(ytl, rotation=90, va='center')
    ax.tick_params(axis='both', direction='out', length=18.5, width=2.2, labelsize=31)
    ax.tick_params(axis='x', pad=26)
    ax.tick_params(axis='y', pad=16.5)
    for sp in ax.spines.values():
        sp.set_linewidth(2.2)

    ax.text(0.5, -0.512, name, transform=ax.transAxes, ha='center', va='baseline', fontsize=31)
    ax.text(-0.180, 0.5, ylab, transform=ax.transAxes, rotation=90,
            ha='center', va='center', fontsize=31)

    # legend box drawn by hand so it sits exactly like the R one
    ax.add_patch(Rectangle((0.731, 0.641), 0.249, 0.275, transform=ax.transAxes,
                           fill=False, lw=2.2, zorder=6))
    ax.plot([0.766], [0.782], 'o', transform=ax.transAxes, color=RED, ms=14.5, mew=0, zorder=6)
    ax.text(0.809, 0.734, 'outliers', transform=ax.transAxes, ha='left', va='baseline',
            fontsize=31, zorder=6)

fig.savefig('out.png', dpi=100)
